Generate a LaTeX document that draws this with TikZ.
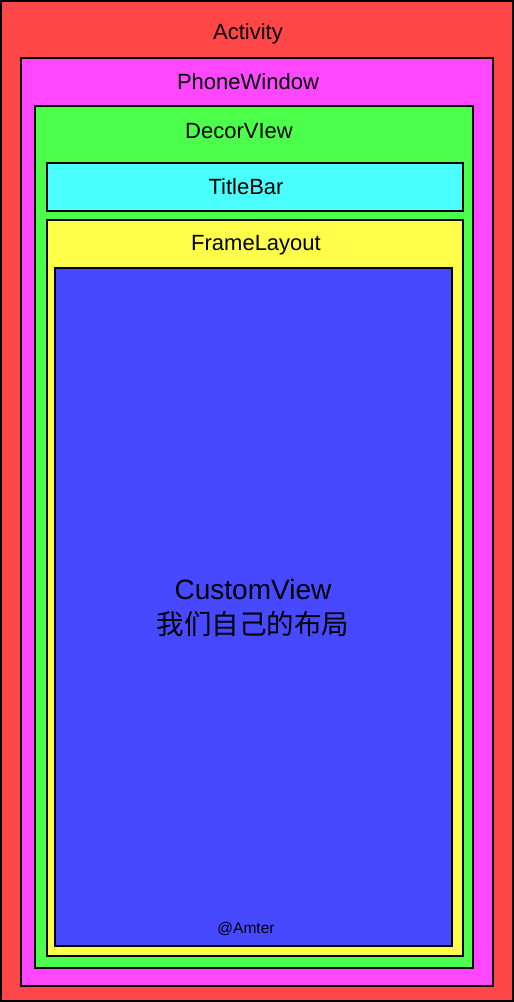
\documentclass[tikz,border=0pt]{standalone}
\usepackage{fontspec}
\setmainfont{Liberation Sans}
\newfontfamily\cjk{Noto Sans CJK SC}
\usepackage{tikz}
\usetikzlibrary{positioning}

\definecolor{actred}{HTML}{FF4747}
\definecolor{winpink}{HTML}{FF47FF}
\definecolor{decorgreen}{HTML}{4BFF4B}
\definecolor{titlecyan}{HTML}{4BFFFF}
\definecolor{frameyellow}{HTML}{FFFF4B}
\definecolor{customblue}{HTML}{4649FF}

\tikzset{
  layer/.style={draw=black, line width=1.3pt},
  lbl/.style={font=\fontsize{22}{26}\selectfont, inner sep=0pt}
}

\begin{document}
\begin{tikzpicture}[x=1pt, y=-1pt]
            \useasboundingbox (0,0) rectangle (514,1002);
            % nested boxes
            \draw[layer, fill=actred] (1,1) rectangle (513,1001);
            \draw[layer, fill=winpink] (21,58) rectangle (493,986);
            \draw[layer, fill=decorgreen] (35,106) rectangle (473,968);
            \draw[layer, fill=titlecyan] (47,163) rectangle (463,211);
            \draw[layer, fill=frameyellow] (47,220) rectangle (463,956);
            \draw[layer, fill=customblue] (55,268) rectangle (452,946);
            % labels
            \node[lbl] (activity) at (248,34) {Activity};
            \node[lbl] (phonewindow) at (248,82) {PhoneWindow};
            \node[lbl] (decorview) at (239,131) {DecorVIew};
            \node[lbl] (titlebar) at (246,187) {TitleBar};
            \node[lbl] (framelayout) at (256,245) {FrameLayout};
            \node[lbl, font=\fontsize{28}{32}\selectfont] (customview) at (253,589) {CustomView};
            \node[lbl, font=\fontsize{27.5}{32}\selectfont\cjk] (ourlayout) at (253,624) {我们自己的布局};
            \node[lbl, font=\fontsize{15.5}{18}\selectfont] (amter) at (246,929) {@Amter};
        \end{tikzpicture}
\end{document}
